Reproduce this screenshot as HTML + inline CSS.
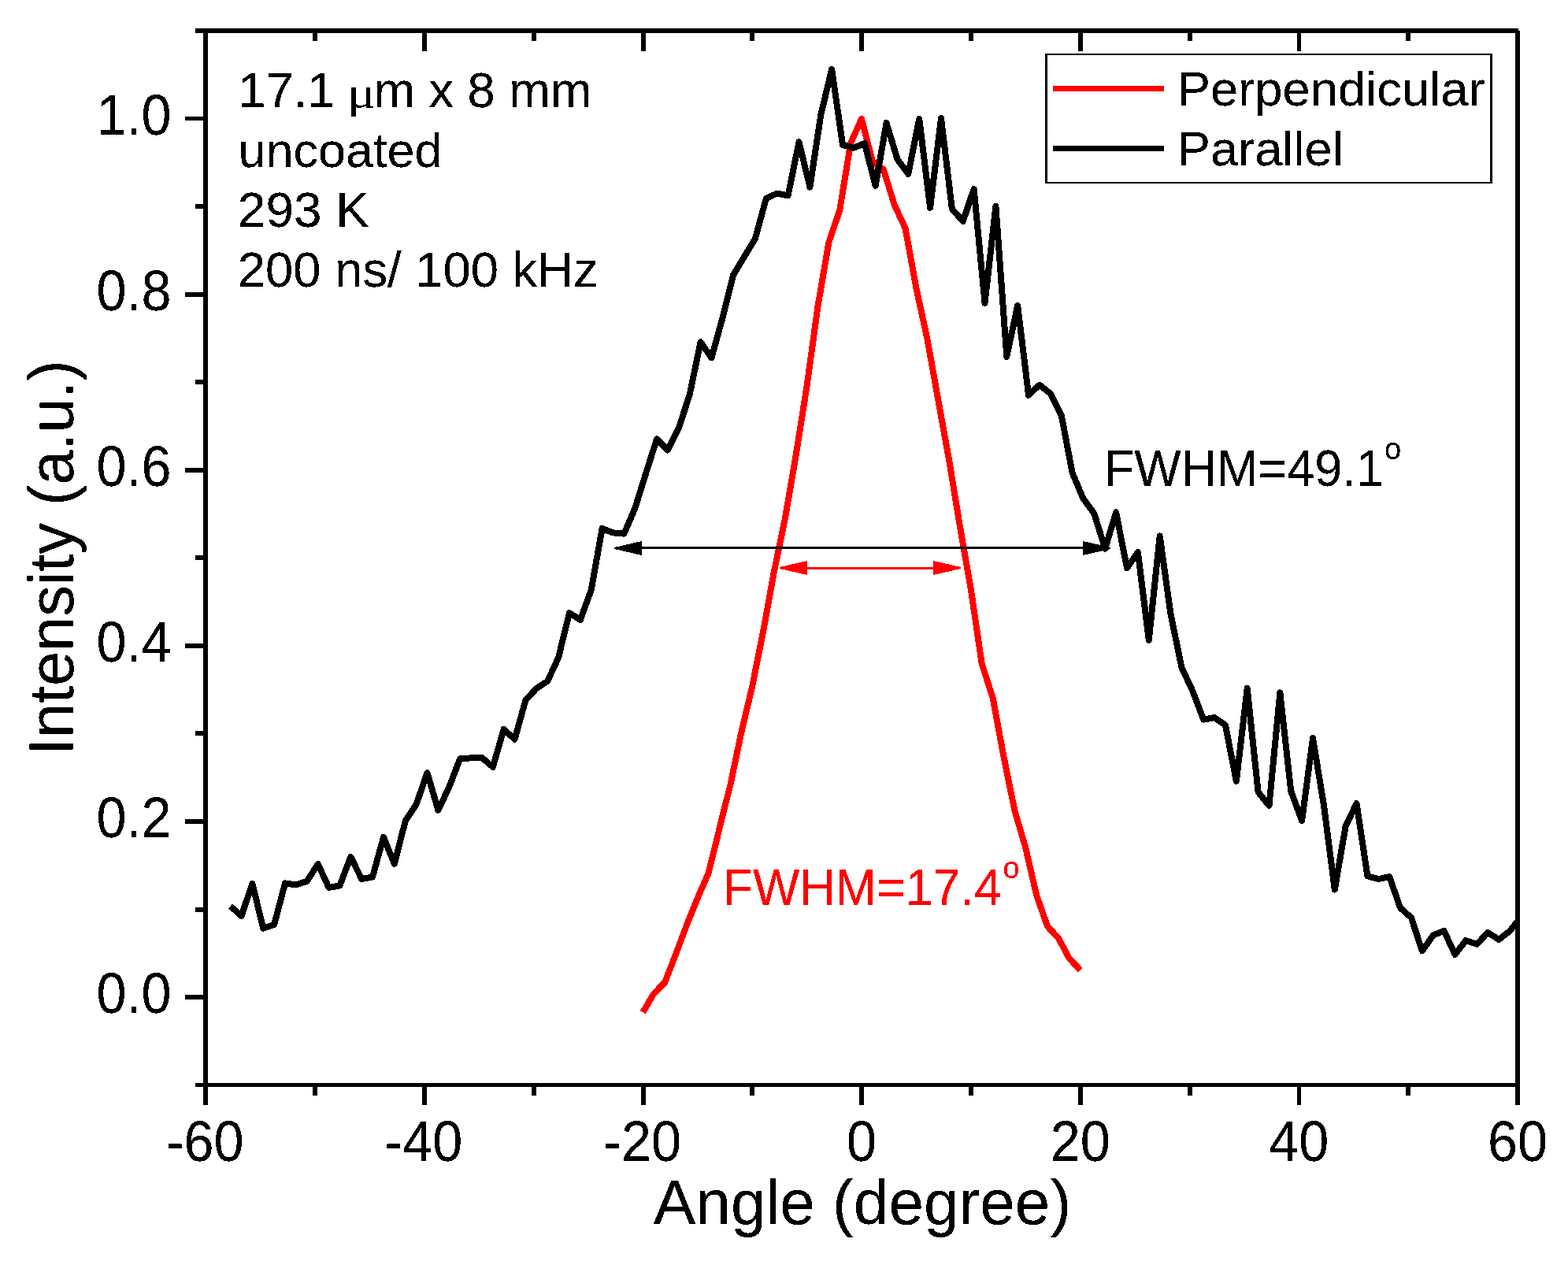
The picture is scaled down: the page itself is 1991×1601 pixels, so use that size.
<!DOCTYPE html>
<html lang="en"><head><meta charset="utf-8"><title>Far-field intensity vs angle</title>
<style>
html,body{margin:0;padding:0;background:#fff;}
body{width:1991px;height:1601px;overflow:hidden;}
svg{display:block;}
text{font-family:"Liberation Sans",sans-serif;fill:#000;white-space:pre;}
.tk{font-size:68.4px;}
.ttl{font-size:80px;}
.ann{font-size:63px;}
.sup{font-size:38px;}
.sym{font-family:"Liberation Serif","DejaVu Serif",serif;font-size:60px;}
.r{fill:#f00;}
</style></head><body>
<svg width="1991" height="1601" viewBox="0 0 1991 1601">
<rect x="0" y="0" width="1991" height="1601" fill="#fff"/>
<defs><filter id="bin" filterUnits="userSpaceOnUse" x="0" y="0" width="1991" height="1601" color-interpolation-filters="sRGB"><feComponentTransfer><feFuncA type="discrete" tableValues="0 0 1 1 1"/></feComponentTransfer></filter></defs>
<g shape-rendering="crispEdges" fill="#000">
<rect x="248" y="36" width="1680" height="6"/>
<rect x="248" y="1375" width="1679" height="5"/>
<rect x="258" y="36" width="6" height="1367"/>
<rect x="1924" y="39" width="6" height="1364"/>
<rect x="397" y="1378" width="6" height="13"/>
<rect x="397" y="40" width="6" height="12"/>
<rect x="536" y="1378" width="6" height="25"/>
<rect x="536" y="40" width="6" height="25"/>
<rect x="675" y="1378" width="6" height="13"/>
<rect x="675" y="40" width="6" height="12"/>
<rect x="814" y="1378" width="6" height="25"/>
<rect x="814" y="40" width="6" height="25"/>
<rect x="952" y="1378" width="6" height="13"/>
<rect x="952" y="40" width="6" height="12"/>
<rect x="1091" y="1378" width="6" height="25"/>
<rect x="1091" y="40" width="6" height="25"/>
<rect x="1230" y="1378" width="6" height="13"/>
<rect x="1230" y="40" width="6" height="12"/>
<rect x="1369" y="1378" width="6" height="25"/>
<rect x="1369" y="40" width="6" height="25"/>
<rect x="1508" y="1378" width="6" height="13"/>
<rect x="1508" y="40" width="6" height="12"/>
<rect x="1647" y="1378" width="5" height="25"/>
<rect x="1647" y="40" width="5" height="25"/>
<rect x="1785" y="1378" width="6" height="13"/>
<rect x="1785" y="40" width="6" height="12"/>
<rect x="235" y="1263" width="25" height="6"/>
<rect x="248" y="1152" width="12" height="6"/>
<rect x="235" y="1040" width="25" height="6"/>
<rect x="248" y="928" width="12" height="6"/>
<rect x="235" y="817" width="25" height="6"/>
<rect x="248" y="705" width="12" height="6"/>
<rect x="235" y="594" width="25" height="6"/>
<rect x="248" y="482" width="12" height="6"/>
<rect x="235" y="371" width="25" height="6"/>
<rect x="248" y="259" width="12" height="6"/>
<rect x="235" y="148" width="25" height="5"/>
</g>
<polyline fill="none" stroke="#f00" stroke-width="8" stroke-linejoin="round" stroke-linecap="butt" shape-rendering="crispEdges" points="816.34,1285.3 830.22,1261.5 844.11,1247.5 857.99,1211.8 871.87,1174.8 885.75,1140.2 899.64,1108.3 913.52,1051.9 927.4,996.5 941.29,930 955.17,871.7 969.05,802 982.94,725.5 996.82,658.5 1010.7,577.8 1024.59,489.9 1038.47,389 1052.35,307.8 1066.23,267 1080.12,181.8 1094,151 1107.88,205 1121.77,215 1135.65,260 1149.53,289.8 1163.41,365.8 1177.3,429.7 1191.18,507.2 1205.06,583.7 1218.95,668.6 1232.83,748.2 1246.71,842.9 1260.6,885.8 1274.48,960.8 1288.36,1028.9 1302.24,1076.3 1316.13,1136.4 1330.01,1176.2 1343.89,1190.9 1357.78,1216.9 1371.66,1231.5"/>
<polyline fill="none" stroke="#000" stroke-width="8" stroke-linejoin="round" stroke-linecap="butt" shape-rendering="crispEdges" points="292.6,1150.5 306.48,1163 320.37,1121.9 334.25,1178.6 348.13,1174.1 362.01,1121.4 375.9,1123.4 389.78,1118.9 403.66,1097 417.55,1126.9 431.43,1124.4 445.31,1087.9 459.2,1116 473.08,1113.4 486.96,1062.8 500.85,1096.8 514.73,1042.4 528.61,1021.3 542.49,981.1 556.38,1028.6 570.26,999.4 584.14,963.2 598.03,962.4 611.91,961.9 625.79,973.9 639.67,925.9 653.56,938.6 667.44,888.8 681.32,873.9 695.21,864.9 709.09,834.9 722.97,778.3 736.86,786.9 750.74,748.9 764.62,671 778.5,676.4 792.39,677.6 806.27,645.5 820.15,600.9 834.04,557.4 847.92,571.4 861.8,543.9 875.69,500.9 889.57,434.3 903.45,454.3 917.34,404 931.22,348.9 945.1,325.9 958.98,302.9 972.87,251.9 986.75,245.5 1000.63,248.3 1014.52,180.3 1028.4,237.6 1042.28,146 1056.16,87.9 1070.05,184 1083.93,187.8 1097.81,182 1111.7,235.8 1125.58,156 1139.46,202.2 1153.35,220.8 1167.23,151.1 1181.11,263.7 1194.99,150.1 1208.88,265.4 1222.76,281 1236.64,239.9 1250.53,384.8 1264.41,261.6 1278.29,452.8 1292.18,387.8 1306.06,501.7 1319.94,488.7 1333.82,499.8 1347.71,527 1361.59,600.4 1375.47,633 1389.36,652.1 1403.24,696.5 1417.12,650.5 1431.01,721.2 1444.89,701.1 1458.77,812.8 1472.65,680.4 1486.54,780 1500.42,847.4 1514.3,877.1 1528.19,913.6 1542.07,911.1 1555.95,920.6 1569.84,992 1583.72,873.7 1597.6,1005.6 1611.49,1022.8 1625.37,879.4 1639.25,1004.5 1653.13,1042 1667.02,937.1 1680.9,1022 1694.78,1129.5 1708.67,1048.6 1722.55,1020.2 1736.43,1112.3 1750.32,1116.1 1764.2,1113 1778.08,1152.7 1791.96,1165.1 1805.85,1207.4 1819.73,1187.5 1833.61,1181.8 1847.5,1211.9 1861.38,1194 1875.26,1198.8 1889.14,1183.9 1903.03,1192.9 1916.91,1182.4 1927,1169.61"/>
<g shape-rendering="crispEdges">
<rect x="1010" y="720" width="190" height="3" fill="#f00"/>
<polygon points="990,720 990,722 1025,730 1025,712" fill="#f00"/>
<polygon points="1220,720 1220,722 1185,730 1185,712" fill="#f00"/>
<rect x="800" y="694" width="590" height="3" fill="#000"/>
<polygon points="780,695 780,697 815,705 815,687" fill="#000"/>
<polygon points="1410,695 1410,697 1375,705 1375,687" fill="#000"/>
</g>
<g shape-rendering="crispEdges">
<rect x="1327" y="68" width="568" height="165" fill="#000"/>
<rect x="1330" y="70" width="562" height="161" fill="#fff"/>
<rect x="1337" y="109" width="141" height="7" fill="#f00"/>
<rect x="1337" y="185" width="141" height="7" fill="#000"/>
</g>
<g filter="url(#bin)">
<text class="ann" transform="translate(1494.65 133.8) scale(1.006 0.98)">Perpendicular</text>
<text class="ann" transform="translate(1494.75 210) scale(1.004 0.98)">Parallel</text>
<text class="ann" x="302.6" y="136.2">17.1</text>
<text class="sym" transform="translate(440.7 136) scale(1.12 0.92)">μ</text>
<text class="ann" transform="translate(474.45 136.2) scale(1.0015 1)">m x 8 mm</text>
<text class="ann" transform="translate(302.4 211.9) scale(1 0.975)">uncoated</text>
<text class="ann" transform="translate(301.85 288) scale(1.014 1)">293 K</text>
<text class="ann" transform="translate(301.85 363.8) scale(1.006 1)">200 ns/ 100 kHz</text>
<text class="ann" transform="translate(1401.65 617.1) scale(1 1.02)">FWHM=49.1</text>
<text class="sup" x="1758.1" y="583.05">o</text>
<text class="ann r" transform="translate(917.55 1149) scale(0.9976 1.02)">FWHM=17.4</text>
<text class="sup r" x="1273.6" y="1114.55">o</text>
<text class="tk" transform="translate(260.22 1473.5) scale(1 1.043)" text-anchor="middle">-60</text>
<text class="tk" transform="translate(537.88 1473.5) scale(1 1.043)" text-anchor="middle">-40</text>
<text class="tk" transform="translate(815.54 1473.5) scale(1 1.043)" text-anchor="middle">-20</text>
<text class="tk" transform="translate(1094 1473.5) scale(1 1.043)" text-anchor="middle">0</text>
<text class="tk" transform="translate(1371.66 1473.5) scale(1 1.043)" text-anchor="middle">20</text>
<text class="tk" transform="translate(1649.32 1473.5) scale(1 1.043)" text-anchor="middle">40</text>
<text class="tk" transform="translate(1926.98 1473.5) scale(1 1.043)" text-anchor="middle">60</text>
<text class="tk" transform="translate(217.5 1286.3) scale(1 1.043)" text-anchor="end">0.0</text>
<text class="tk" transform="translate(217.5 1063.22) scale(1 1.043)" text-anchor="end">0.2</text>
<text class="tk" transform="translate(217.5 840.14) scale(1 1.043)" text-anchor="end">0.4</text>
<text class="tk" transform="translate(217.5 617.06) scale(1 1.043)" text-anchor="end">0.6</text>
<text class="tk" transform="translate(217.5 393.98) scale(1 1.043)" text-anchor="end">0.8</text>
<text class="tk" transform="translate(217.5 170.9) scale(1 1.043)" text-anchor="end">1.0</text>
<text class="ttl" transform="translate(829.85 1553.9) scale(1.002 0.995)">Angle (degree)</text>
<text class="ttl" transform="translate(92.2 958.8) rotate(-90) scale(0.99 0.995)">Intensity (a.u.)</text>
</g>
</svg>
</body></html>
